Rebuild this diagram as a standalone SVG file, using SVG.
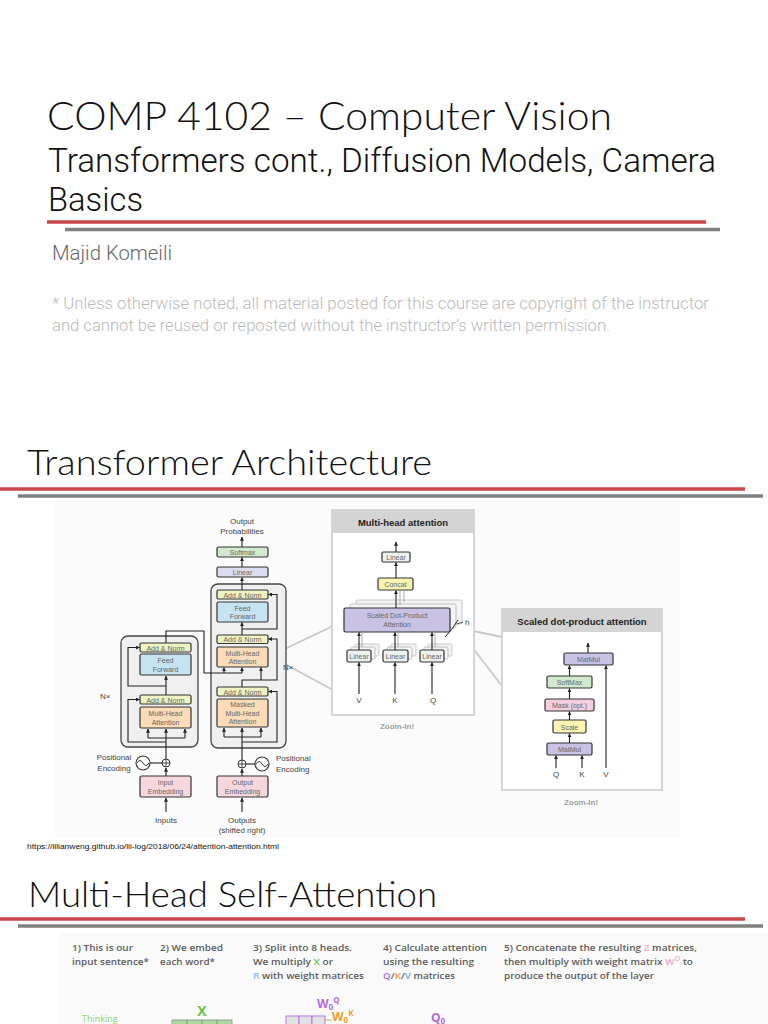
<svg xmlns="http://www.w3.org/2000/svg" width="768" height="1024" viewBox="0 0 768 1024">
<defs>
<style>
.hd{font-family:Lato,"Liberation Sans",sans-serif;font-weight:300;fill:#111}
.sb{font-family:Roboto,"Liberation Sans",sans-serif;font-weight:300;fill:#111}
.au{font-family:Roboto,"Liberation Sans",sans-serif;font-weight:300;fill:#666}
.cp{font-family:Roboto,"Liberation Sans",sans-serif;font-weight:300;fill:#bababa}
.red{stroke:#c9474a;stroke-width:3.5}
.gry{stroke:#808080;stroke-width:3.5}
.bx{stroke:#333;stroke-width:1.2}
.big{fill:#f0f0f0;stroke:#444;stroke-width:1.3}
.an{fill:#eff3c2}.ff{fill:#c6e3f1}.mh{fill:#fbdbb8}.ln{fill:#dcdcf0}.sm{fill:#d2e9cf}.em{fill:#f6d7de}
.lg{fill:#eef2ee}.sd{fill:#c9c2e6}.cc{fill:#fbf3b2}.mk{fill:#f5cfe0}
.bt{font-family:"Liberation Sans",Arial,sans-serif;font-size:7px;fill:#666;text-anchor:middle}
.lb{font-family:"Liberation Sans",Arial,sans-serif;font-size:8px;fill:#444}
.ph{font-family:"Liberation Sans",Arial,sans-serif;font-size:9.5px;font-weight:bold;fill:#222;text-anchor:middle}
.zi{font-family:"Liberation Sans",Arial,sans-serif;font-size:8px;font-weight:bold;fill:#a0a0a0;text-anchor:middle}
.w{fill:none;stroke:#222;stroke-width:1.1}
.wa{fill:none;stroke:#222;stroke-width:1.1;marker-end:url(#ah)}
.zl{fill:none;stroke:#c8c8c8;stroke-width:1.8}
.bo{font-family:"Open Sans","Liberation Sans",sans-serif;font-size:9.6px;font-weight:600;fill:#5c5c5c}
.fig{font-family:"Open Sans","Liberation Sans",sans-serif;font-weight:bold}
.thk{font-family:"Open Sans","Liberation Sans",sans-serif;font-weight:normal;font-size:9px;fill:#8fd06a}
</style>
<marker id="ah" viewBox="0 0 6 6" refX="5.5" refY="3" markerWidth="4" markerHeight="4" orient="auto" markerUnits="userSpaceOnUse"><path d="M0,0 L6,3 L0,6 z" fill="#222"/></marker>
</defs>
<rect width="768" height="1024" fill="#ffffff"/>

<g id="title">
<text class="hd" x="47" y="130" font-size="40" textLength="565" lengthAdjust="spacingAndGlyphs">COMP 4102 – Computer Vision</text>
<text class="sb" x="48" y="172" font-size="33" textLength="668" lengthAdjust="spacingAndGlyphs">Transformers cont., Diffusion Models, Camera</text>
<text class="sb" x="48" y="211" font-size="33" textLength="95" lengthAdjust="spacingAndGlyphs">Basics</text>
<line class="red" x1="47" y1="222" x2="706" y2="222"/>
<line class="gry" x1="65" y1="229.5" x2="720" y2="229.5"/>
<text class="au" x="52" y="260" font-size="20" textLength="120" lengthAdjust="spacingAndGlyphs">Majid Komeili</text>
<text class="cp" x="52" y="309" font-size="16" textLength="657" lengthAdjust="spacingAndGlyphs">* Unless otherwise noted, all material posted for this course are copyright of the  instructor</text>
<text class="cp" x="52" y="331" font-size="16" textLength="558" lengthAdjust="spacingAndGlyphs">and cannot be reused or reposted without the instructor’s written permission.</text>
</g>

<g id="heading-transformer">
<text class="hd" x="27" y="475" font-size="36" textLength="405" lengthAdjust="spacingAndGlyphs">Transformer Architecture</text>
<line class="red" x1="0" y1="489" x2="745" y2="489"/>
<line class="gry" x1="18" y1="496" x2="763" y2="496"/>
</g>

<rect x="55" y="500" width="625" height="338" fill="#fbfbfb"/>

<g id="zoom-lines">
<path class="zl" d="M272,655 L333,626"/>
<path class="zl" d="M272,657 L333,690"/>
<path class="zl" d="M459,628 L502,637"/>
<path class="zl" d="M459,630 L502,686"/>
</g>

<g id="encoder">
<rect class="big" x="121" y="636" width="77" height="111" rx="7"/>
<rect class="bx an" x="140" y="643" width="51" height="9" rx="1.5"/>
<text class="bt" x="165.5" y="650.5">Add &amp; Norm</text>
<rect class="bx ff" x="140" y="654" width="51" height="21" rx="1.5"/>
<text class="bt" x="165.5" y="663">Feed</text>
<text class="bt" x="165.5" y="672">Forward</text>
<rect class="bx an" x="140" y="695" width="51" height="9" rx="1.5"/>
<text class="bt" x="165.5" y="702.5">Add &amp; Norm</text>
<rect class="bx mh" x="140" y="707" width="51" height="21" rx="1.5"/>
<text class="bt" x="165.5" y="716">Multi-Head</text>
<text class="bt" x="165.5" y="725">Attention</text>
<rect class="bx em" x="140" y="776" width="51" height="21" rx="1.5"/>
<text class="bt" x="165.5" y="785">Input</text>
<text class="bt" x="165.5" y="794">Embedding</text>
<text class="lb" x="100" y="699">N×</text>
<text class="lb" x="114" y="760" text-anchor="middle">Positional</text>
<text class="lb" x="114" y="771" text-anchor="middle">Encoding</text>
<text class="lb" x="166" y="823" text-anchor="middle">Inputs</text>
<circle cx="143" cy="763" r="7" fill="#fff" stroke="#333" stroke-width="1.1"/>
<path d="M137,763 q3,-5 6,0 t6,0" fill="none" stroke="#333" stroke-width="1"/>
<circle cx="166" cy="763" r="4" fill="#fff" stroke="#333" stroke-width="1"/>
<path d="M162,763 H170 M166,759 V767" stroke="#333" stroke-width="0.9"/>
</g>

<g id="decoder">
<rect class="big" x="211" y="584" width="75" height="164" rx="7"/>
<rect class="bx sm" x="217" y="547" width="51" height="10" rx="1.5"/>
<text class="bt" x="242.5" y="555">Softmax</text>
<rect class="bx ln" x="217" y="567" width="51" height="10" rx="1.5"/>
<text class="bt" x="242.5" y="575">Linear</text>
<rect class="bx an" x="217" y="590" width="51" height="9" rx="1.5"/>
<text class="bt" x="242.5" y="597.5">Add &amp; Norm</text>
<rect class="bx ff" x="217" y="602" width="51" height="20" rx="1.5"/>
<text class="bt" x="242.5" y="610.5">Feed</text>
<text class="bt" x="242.5" y="619">Forward</text>
<rect class="bx an" x="217" y="635" width="51" height="8.5" rx="1.5"/>
<text class="bt" x="242.5" y="642">Add &amp; Norm</text>
<rect class="bx mh" x="217" y="647" width="51" height="20" rx="1.5"/>
<text class="bt" x="242.5" y="655.5">Multi-Head</text>
<text class="bt" x="242.5" y="664">Attention</text>
<rect class="bx an" x="217" y="687" width="51" height="9" rx="1.5"/>
<text class="bt" x="242.5" y="694.5">Add &amp; Norm</text>
<rect class="bx mh" x="217" y="699" width="51" height="28" rx="1.5"/>
<text class="bt" x="242.5" y="707">Masked</text>
<text class="bt" x="242.5" y="715.5">Multi-Head</text>
<text class="bt" x="242.5" y="724">Attention</text>
<rect class="bx em" x="217" y="776" width="51" height="21" rx="1.5"/>
<text class="bt" x="242.5" y="785">Output</text>
<text class="bt" x="242.5" y="794">Embedding</text>
<text class="lb" x="242" y="524" text-anchor="middle">Output</text>
<text class="lb" x="242" y="534" text-anchor="middle">Probabilities</text>
<text class="lb" x="283" y="670">N×</text>
<text class="lb" x="276" y="761">Positional</text>
<text class="lb" x="276" y="772">Encoding</text>
<text class="lb" x="242" y="823" text-anchor="middle">Outputs</text>
<text class="lb" x="242" y="833" text-anchor="middle">(shifted right)</text>
<circle cx="262" cy="764" r="7" fill="#fff" stroke="#333" stroke-width="1.1"/>
<path d="M256,764 q3,-5 6,0 t6,0" fill="none" stroke="#333" stroke-width="1"/>
<circle cx="242" cy="764" r="4" fill="#fff" stroke="#333" stroke-width="1"/>
<path d="M238,764 H246 M242,760 V768" stroke="#333" stroke-width="0.9"/>
</g>

<g id="transformer-connectors">
<path class="wa" d="M166,812 V798"/>
<path class="wa" d="M166,776 V768"/>
<path class="w" d="M150,763 H162"/>
<path class="w" d="M166,759 V738 M148,738 H185"/>
<path class="wa" d="M148,738 V729"/>
<path class="wa" d="M166,738 V729"/>
<path class="wa" d="M185,738 V729"/>
<path class="wa" d="M166,742 H128 V699.5 H139.5"/>
<path class="wa" d="M166,695 V676"/>
<path class="wa" d="M166,686 H128 V647.5 H139.5"/>
<path class="w" d="M166,643 V631 H204 V673 H242"/>
<path class="wa" d="M224,673 V667.5"/>
<path class="wa" d="M242,673 V667.5"/>
<path class="wa" d="M242,812 V798"/>
<path class="wa" d="M242,776 V769"/>
<path class="w" d="M246,764 H255"/>
<path class="w" d="M242,760 V737 M224,737 H261"/>
<path class="wa" d="M224,737 V728"/>
<path class="wa" d="M242,737 V728"/>
<path class="wa" d="M261,737 V728"/>
<path class="wa" d="M242,742 H277 V691.5 H268.5"/>
<path class="w" d="M242,687 V680 H261"/>
<path class="wa" d="M261,680 V667.5"/>
<path class="wa" d="M261,680 H277 V639 H268.5"/>
<path class="wa" d="M242,635 V622.5"/>
<path class="wa" d="M242,629 H277 V594.5 H268.5"/>
<path class="wa" d="M242,590 V577.5"/>
<path class="wa" d="M242,567 V557.5"/>
<path class="wa" d="M242,547 V537"/>
</g>

<g id="multi-head-panel">
<rect x="332" y="510" width="142" height="205" fill="#fff" stroke="#d5d5d5" stroke-width="2"/>
<rect x="332" y="510" width="142" height="23" fill="#d4d4d4"/>
<text class="ph" x="403" y="526">Multi-head attention</text>
<rect class="bx lg" x="382" y="552" width="28" height="10" rx="1.5"/>
<text class="bt" x="396" y="560">Linear</text>
<rect class="bx cc" x="378" y="578" width="35" height="12" rx="1.5"/>
<text class="bt" x="395.5" y="587">Concat</text>
<rect x="356" y="600" width="106" height="24" rx="1.5" fill="#f4f4f4" stroke="#c8c8c8" stroke-width="1"/>
<rect x="350" y="604" width="106" height="24" rx="1.5" fill="#f4f4f4" stroke="#c0c0c0" stroke-width="1"/>
<rect class="bx sd" x="344" y="608" width="106" height="24" rx="1.5"/>
<text class="bt" x="397" y="618">Scaled Dot-Product</text>
<text class="bt" x="397" y="627">Attention</text>
<path d="M445,637 Q452,630 458,620" fill="none" stroke="#222" stroke-width="1"/>
<path d="M457,624 L463,622" fill="none" stroke="#222" stroke-width="0.8"/>
<text class="lb" x="465" y="625" font-size="8">h</text>
<rect x="355" y="644" width="24" height="12" rx="1.5" fill="#f4f4f4" stroke="#c8c8c8"/>
<rect x="351" y="647" width="24" height="12" rx="1.5" fill="#f4f4f4" stroke="#c0c0c0"/>
<rect class="bx lg" x="347" y="650" width="24" height="12" rx="1.5"/>
<text class="bt" x="359" y="659">Linear</text>
<rect x="391" y="644" width="25" height="12" rx="1.5" fill="#f4f4f4" stroke="#c8c8c8"/>
<rect x="387" y="647" width="25" height="12" rx="1.5" fill="#f4f4f4" stroke="#c0c0c0"/>
<rect class="bx lg" x="383" y="650" width="25" height="12" rx="1.5"/>
<text class="bt" x="395.5" y="659">Linear</text>
<rect x="428" y="644" width="24" height="12" rx="1.5" fill="#f4f4f4" stroke="#c8c8c8"/>
<rect x="424" y="647" width="24" height="12" rx="1.5" fill="#f4f4f4" stroke="#c0c0c0"/>
<rect class="bx lg" x="420" y="650" width="24" height="12" rx="1.5"/>
<text class="bt" x="432" y="659">Linear</text>
<text class="lb" x="359" y="703" text-anchor="middle">V</text>
<text class="lb" x="395" y="703" text-anchor="middle">K</text>
<text class="lb" x="433" y="703" text-anchor="middle">Q</text>
<text class="zi" x="397" y="729">Zoom-In!</text>
</g>

<g id="multi-head-connectors">
<path class="wa" d="M359,694 V662.5"/>
<path class="wa" d="M395,694 V662.5"/>
<path class="wa" d="M432,694 V662.5"/>
<path class="wa" d="M359,650 V632.5"/>
<path class="wa" d="M395,650 V632.5"/>
<path class="wa" d="M432,650 V632.5"/>
<path d="M362,647 V630 M398,647 V630 M435,647 V630" stroke="#999" stroke-width="0.8"/>
<path class="wa" d="M396,608 V590.5"/>
<path d="M400,605 V591 M404,602 V591" stroke="#999" stroke-width="0.8"/>
<path class="wa" d="M396,578 V562.5"/>
<path class="wa" d="M396,552 V542"/>
</g>

<g id="scaled-panel">
<rect x="502" y="609" width="160" height="181" fill="#fff" stroke="#d5d5d5" stroke-width="2"/>
<rect x="502" y="609" width="160" height="23" fill="#d4d4d4"/>
<text class="ph" x="582" y="625">Scaled dot-product attention</text>
<rect class="bx sd" x="564" y="653" width="49" height="12" rx="1.5"/>
<text class="bt" x="588.5" y="662">MatMul</text>
<rect class="bx sm" x="547" y="676" width="45" height="12" rx="1.5"/>
<text class="bt" x="569.5" y="685">SoftMax</text>
<rect class="bx mk" x="545" y="699" width="49" height="12" rx="1.5"/>
<text class="bt" x="569.5" y="708">Mask (opt.)</text>
<rect class="bx cc" x="553" y="720" width="33" height="13" rx="1.5"/>
<text class="bt" x="569.5" y="729.5">Scale</text>
<rect class="bx sd" x="547" y="743" width="45" height="12" rx="1.5"/>
<text class="bt" x="569.5" y="752">MatMul</text>
<text class="lb" x="556" y="777" text-anchor="middle">Q</text>
<text class="lb" x="582" y="777" text-anchor="middle">K</text>
<text class="lb" x="606" y="777" text-anchor="middle">V</text>
<text class="zi" x="581" y="805">Zoom-In!</text>
</g>

<g id="scaled-connectors">
<path class="wa" d="M556,768 V755.5"/>
<path class="wa" d="M582,768 V755.5"/>
<path class="wa" d="M569.5,743 V733.5"/>
<path class="wa" d="M569.5,720 V711.5"/>
<path class="wa" d="M569.5,699 V688.5"/>
<path class="wa" d="M569.5,676 V665.5"/>
<path class="wa" d="M606,768 V665.5"/>
<path class="wa" d="M588,653 V643"/>
</g>

<text x="27" y="849" font-family="'Liberation Sans',Arial,sans-serif" font-size="7.2" fill="#111" textLength="252" lengthAdjust="spacingAndGlyphs">https://lilianweng.github.io/lil-log/2018/06/24/attention-attention.html</text>

<g id="heading-mhsa">
<text class="hd" x="28" y="907" font-size="36" textLength="409" lengthAdjust="spacingAndGlyphs">Multi-Head Self-Attention</text>
<line class="red" x1="0" y1="919" x2="745" y2="919"/>
<line class="gry" x1="18" y1="926" x2="763" y2="926"/>
</g>

<rect x="58" y="933" width="710" height="91" fill="#fafafa"/>

<g id="steps">
<text class="bo" x="72" y="951" textLength="61" lengthAdjust="spacingAndGlyphs">1) This is our</text>
<text class="bo" x="72" y="965" textLength="77" lengthAdjust="spacingAndGlyphs">input sentence*</text>
<text class="bo" x="160" y="951" textLength="63" lengthAdjust="spacingAndGlyphs">2) We embed</text>
<text class="bo" x="160" y="965" textLength="55" lengthAdjust="spacingAndGlyphs">each word*</text>
<text class="bo" x="253" y="951" textLength="99" lengthAdjust="spacingAndGlyphs">3) Split into 8 heads.</text>
<text class="bo" x="253" y="965" textLength="80" lengthAdjust="spacingAndGlyphs">We multiply <tspan fill="#6cc04a">X</tspan> or</text>
<text class="bo" x="253" y="979" textLength="111" lengthAdjust="spacingAndGlyphs"><tspan fill="#8fc1f0">R</tspan> with weight matrices</text>
<text class="bo" x="383" y="951" textLength="104" lengthAdjust="spacingAndGlyphs">4) Calculate attention</text>
<text class="bo" x="383" y="965" textLength="91" lengthAdjust="spacingAndGlyphs">using the resulting</text>
<text class="bo" x="383" y="979" textLength="72" lengthAdjust="spacingAndGlyphs"><tspan fill="#b36ae2">Q</tspan>/<tspan fill="#f39a2b">K</tspan>/<tspan fill="#6aa8f0">V</tspan> matrices</text>
<text class="bo" x="504" y="951" textLength="193" lengthAdjust="spacingAndGlyphs">5) Concatenate the resulting <tspan fill="#f7a8c8">Z</tspan> matrices,</text>
<text class="bo" x="504" y="965" textLength="189" lengthAdjust="spacingAndGlyphs">then multiply with weight matrix <tspan fill="#f7a8c8">W<tspan baseline-shift="super" font-size="7">O</tspan></tspan> to</text>
<text class="bo" x="504" y="979" textLength="150" lengthAdjust="spacingAndGlyphs">produce the output of the layer</text>
</g>

<g id="step-figures">
<text class="thk" x="82" y="1022">Thinking</text>
<text class="fig" x="202" y="1016" font-size="14" fill="#6cc04a" text-anchor="middle">X</text>
<g stroke="#8a8a8a" stroke-width="0.8" fill="#a9dba0">
<rect x="172" y="1020" width="15" height="8"/><rect x="187" y="1020" width="15" height="8"/><rect x="202" y="1020" width="15" height="8"/><rect x="217" y="1020" width="15" height="8"/>
</g>
<text class="fig" x="317" y="1008" font-size="12" fill="#b36ae2">W<tspan font-size="8" dy="2">0</tspan><tspan font-size="8" dy="-7">Q</tspan></text>
<g stroke="#b36ae2" stroke-width="0.9" fill="#e2e2e2">
<rect x="286" y="1016" width="13" height="10"/><rect x="299" y="1016" width="13" height="10"/><rect x="312" y="1016" width="13" height="10"/>
</g>
<path d="M325,1020 H331" stroke="#f39a2b" stroke-width="0.9"/>
<text class="fig" x="332" y="1021" font-size="12" fill="#f39a2b">W<tspan font-size="8" dy="1.5">0</tspan><tspan font-size="8" dy="-7">K</tspan></text>
<text class="fig" x="431" y="1022" font-size="12" fill="#b36ae2">Q<tspan font-size="8" dy="1.5">0</tspan></text>
</g>
</svg>
